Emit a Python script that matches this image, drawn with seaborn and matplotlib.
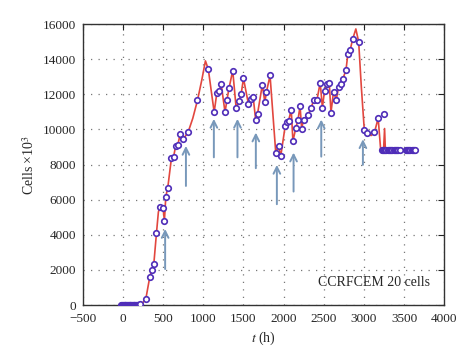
import matplotlib
matplotlib.use("Agg")
import matplotlib.pyplot as plt
import seaborn as sns
import pandas as pd

# ---- data ----
marker_t = [-20, -10, 0, 10, 20, 30, 40, 50, 60, 70, 80, 90, 100, 110, 120, 130, 140, 150,
            160, 170, 180, 190, 200, 215,
            283, 333, 358, 383, 416, 460, 497, 515, 532, 557, 602, 630, 655, 682, 711, 752,
            810, 927, 1062, 1135, 1168, 1199, 1222, 1270, 1295, 1320, 1366, 1409, 1440,
            1470, 1500, 1562, 1592, 1620, 1652, 1675, 1735, 1766, 1785, 1831, 1902, 1937,
            1964, 2020, 2041, 2061, 2095, 2116, 2153, 2178, 2205, 2225, 2248, 2307, 2338,
            2377, 2415, 2456, 2483, 2510, 2540, 2569, 2590, 2622, 2656, 2684, 2711, 2738,
            2777, 2800, 2830, 2859, 2935, 3005, 3038, 3132, 3178, 3248,
            3220, 3235, 3250, 3265, 3280, 3295, 3310, 3325, 3340, 3355, 3370, 3385, 3400,
            3415, 3430, 3445, 3520, 3535, 3550, 3565, 3580, 3595, 3610, 3625, 3640]
marker_v = [0, 0, 0, 0, 0, 0, 0, 0, 0, 0, 0, 0, 0, 0, 0, 0, 0, 0,
            0, 0, 0, 0, 30, 60,
            340, 1610, 2000, 2340, 4100, 5580, 5550, 4800, 6170, 6690, 8350, 8450, 9070, 9120, 9730, 9460,
            9840, 11660, 13420, 10980, 12080, 12170, 12590, 10980, 11700, 12350, 13350, 11200, 11600,
            11990, 12900, 11440, 11730, 11870, 10540, 10880, 12550, 11550, 12110, 13070, 8680, 9060,
            8470, 10200, 10440, 10470, 11130, 9330, 10100, 10510, 11330, 10040, 10540, 10820, 11200,
            11660, 11660, 12670, 11240, 12200, 12560, 12650, 10960, 12140, 11680, 12400, 12560, 12870,
            13380, 14270, 14530, 15120, 14990, 9990, 9800, 9830, 10630, 10870,
            8800, 8800, 8800, 8800, 8800, 8800, 8800, 8800, 8800, 8800, 8800, 8800, 8800,
            8800, 8800, 8800, 8800, 8800, 8800, 8800, 8800, 8800, 8800, 8800, 8800]

line_t = [-20, 200, 230, 260, 283, 333, 358, 383, 416, 440, 460, 497, 515, 532, 557, 602, 630,
          655, 682, 711, 752, 810, 869, 927, 981, 1026, 1062, 1105, 1135, 1168, 1199, 1222,
          1270, 1295, 1320, 1366, 1409, 1440, 1470, 1500, 1562, 1592, 1620, 1652, 1675, 1735,
          1766, 1785, 1831, 1902, 1937, 1964, 2020, 2041, 2061, 2095, 2116, 2153, 2178, 2205,
          2225, 2248, 2307, 2338, 2377, 2415, 2456, 2483, 2510, 2540, 2569, 2590, 2622, 2656,
          2684, 2711, 2738, 2777, 2800, 2830, 2859, 2900, 2935, 2968, 3005, 3038, 3090, 3132,
          3178, 3210, 3245, 3258, 3268, 3640]
line_v = [0, 0, 80, 200, 340, 1610, 2000, 2340, 4100, 5300, 5580, 5550, 4800, 6170, 6690, 8350, 8450,
          9070, 9120, 9730, 9460, 9840, 10640, 11660, 12820, 13900, 13420, 11970, 10980, 12080, 12170, 12590,
          10980, 11700, 12350, 13350, 11200, 11600, 11990, 12900, 11440, 11730, 11870, 10540, 10880, 12550,
          11550, 12110, 13070, 8680, 9060, 8470, 10200, 10440, 10470, 11130, 9330, 10100, 10510, 11330,
          10040, 10540, 10820, 11200, 11660, 11660, 12670, 11240, 12200, 12560, 12650, 10960, 12140, 11680,
          12400, 12560, 12870, 13380, 14270, 14530, 15120, 15720, 14990, 12440, 9990, 9800, 9650, 9830,
          10640, 8800, 8800, 10050, 8800, 8800]

arrow_t = [524, 783, 1131, 1425, 1654, 1916, 2124, 2469, 2988]
arrow_tail = [2050, 6780, 8410, 8410, 7790, 5740, 6460, 8450, 7980]
arrow_head = [4330, 9060, 10600, 10600, 9820, 7980, 8680, 10560, 9440]

x_ticks = [-500, 0, 500, 1000, 1500, 2000, 2500, 3000, 3500, 4000]
y_ticks = [0, 2000, 4000, 6000, 8000, 10000, 12000, 14000, 16000]

# ---- style ----
sns.set_style("white")
plt.rcParams["font.family"] = ["Liberation Serif", "DejaVu Serif"]
plt.rcParams["mathtext.fontset"] = "stix"

fig = plt.figure(figsize=(4.74, 3.64), dpi=100)
ax = fig.add_axes([0.175, 0.162, 0.762, 0.772])

line_df = pd.DataFrame({"t": line_t, "v": line_v})
mark_df = pd.DataFrame({"t": marker_t, "v": marker_v})

sns.lineplot(data=line_df, x="t", y="v", ax=ax, color="#e2473f", lw=1.2,
             sort=False, estimator=None, zorder=3)
sns.scatterplot(data=mark_df, x="t", y="v", ax=ax, s=16, marker="o",
                facecolor="white", edgecolor="#4f2db8", linewidth=1.2, zorder=4)

for t, a, b in zip(arrow_t, arrow_tail, arrow_head):
    ax.annotate("", xy=(t, b), xytext=(t, a),
                arrowprops=dict(arrowstyle="->", color="#7898ba", lw=1.4,
                                mutation_scale=12, shrinkA=0, shrinkB=0),
                zorder=2)

ax.set_xlim(-500, 4000)
ax.set_ylim(0, 16000)
ax.set_xticks(x_ticks)
ax.set_yticks(y_ticks)
ax.set_xticklabels([("\u2212" + str(-v)) if v < 0 else str(v) for v in x_ticks])
ax.set_yticklabels([str(v) for v in y_ticks])
ax.tick_params(direction="in", top=True, right=True, length=4, width=0.8,
               labelsize=9.5, color="#222222")
ax.tick_params(axis="x", pad=6)
ax.tick_params(axis="y", pad=5)
ax.grid(True, linestyle=(0, (1, 5)), color="#777777", linewidth=0.9)
for sp in ax.spines.values():
    sp.set_visible(True)
    sp.set_color("#333333")
    sp.set_linewidth(1.0)

ax.set_xlabel("$t$ (h)", fontsize=10, labelpad=3)
ax.set_ylabel("Cells \u00d710$^3$", fontsize=10, labelpad=4)
ax.text(0.96, 0.08, "CCRFCEM 20 cells", transform=ax.transAxes, ha="right",
        va="center", fontsize=10)

fig.savefig("out.png", dpi=100)
